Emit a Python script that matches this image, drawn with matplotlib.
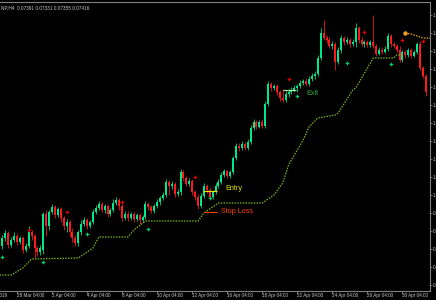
import numpy as np
import matplotlib
matplotlib.use("Agg")
import matplotlib.pyplot as plt

plt.close("all")

# H4 candles, bar 0 is the first bar on the left
Open = [
    0.9898, 0.9914, 0.9924, 0.9900, 0.9910, 0.9918, 0.9906, 0.9914, 0.9890, 0.9898,
    0.9926, 0.9918, 0.9894, 0.9886, 0.9890, 0.9962, 0.9938, 0.9966, 0.9976, 0.9960,
    0.9972, 0.9954, 0.9938, 0.9946, 0.9926, 0.9914, 0.9904, 0.9926, 0.9942, 0.9950,
    0.9938, 0.9946, 0.9966, 0.9974, 0.9982, 0.9970, 0.9978, 0.9962, 0.9970, 0.9984,
    0.9990, 0.9978, 0.9954, 0.9962, 0.9954, 0.9962, 0.9952, 0.9960, 0.9950, 0.9956,
    0.9982, 0.9976, 0.9968, 0.9978, 0.9986, 0.9994, 1.0000, 1.0026, 1.0018, 1.0022,
    1.0002, 1.0006, 1.0046, 1.0034, 1.0022, 1.0028, 1.0006, 0.9996, 0.9978, 0.9998,
    1.0018, 1.0010, 0.9996, 1.0006, 1.0018, 1.0026, 1.0040, 1.0048, 1.0038, 1.0046,
    1.0074, 1.0098, 1.0094, 1.0102, 1.0094, 1.0106, 1.0134, 1.0146, 1.0136, 1.0146,
    1.0138, 1.0182, 1.0222, 1.0214, 1.0218, 1.0206, 1.0194, 1.0190, 1.0202, 1.0206,
    1.0210, 1.0214, 1.0218, 1.0224, 1.0228, 1.0222, 1.0232, 1.0238, 1.0242, 1.0274,
    1.0324, 1.0314, 1.0310, 1.0298, 1.0302, 1.0266, 1.0290, 1.0314, 1.0306, 1.0310,
    1.0302, 1.0306, 1.0334, 1.0310, 1.0302, 1.0306, 1.0300, 1.0306, 1.0298, 1.0282,
    1.0290, 1.0286, 1.0292, 1.0318, 1.0302, 1.0298, 1.0290, 1.0270, 1.0286, 1.0280,
    1.0290, 1.0278, 1.0286, 1.0302, 1.0254, 1.0238]
High = [
    0.9920, 0.9930, 0.9928, 0.9916, 0.9926, 0.9922, 0.9918, 0.9918, 0.9904, 0.9938,
    0.9930, 0.9922, 0.9898, 0.9900, 0.9966, 0.9970, 0.9970, 0.9982, 0.9980, 0.9976,
    0.9976, 0.9958, 0.9952, 0.9950, 0.9934, 0.9920, 0.9930, 0.9950, 0.9956, 0.9954,
    0.9950, 0.9972, 0.9980, 0.9988, 0.9986, 0.9982, 0.9982, 0.9974, 0.9992, 0.9996,
    0.9994, 0.9982, 0.9968, 0.9968, 0.9966, 0.9966, 0.9964, 0.9964, 0.9960, 0.9988,
    0.9986, 0.9980, 0.9982, 0.9992, 0.9998, 1.0006, 1.0032, 1.0030, 1.0028, 1.0026,
    1.0012, 1.0052, 1.0050, 1.0038, 1.0034, 1.0032, 1.0010, 1.0002, 1.0004, 1.0024,
    1.0022, 1.0014, 1.0010, 1.0024, 1.0032, 1.0046, 1.0052, 1.0050, 1.0050, 1.0078,
    1.0104, 1.0104, 1.0108, 1.0106, 1.0112, 1.0140, 1.0152, 1.0150, 1.0150, 1.0152,
    1.0188, 1.0228, 1.0226, 1.0222, 1.0222, 1.0210, 1.0212, 1.0208, 1.0212, 1.0216,
    1.0220, 1.0222, 1.0230, 1.0232, 1.0234, 1.0238, 1.0244, 1.0248, 1.0280, 1.0334,
    1.0350, 1.0320, 1.0316, 1.0308, 1.0306, 1.0296, 1.0320, 1.0318, 1.0316, 1.0314,
    1.0312, 1.0344, 1.0338, 1.0316, 1.0310, 1.0310, 1.0310, 1.0360, 1.0302, 1.0296,
    1.0296, 1.0298, 1.0324, 1.0322, 1.0306, 1.0302, 1.0298, 1.0290, 1.0290, 1.0294,
    1.0294, 1.0290, 1.0306, 1.0308, 1.0258, 1.0242]
Low = [
    0.9892, 0.9908, 0.9894, 0.9896, 0.9906, 0.9900, 0.9902, 0.9884, 0.9886, 0.9894,
    0.9910, 0.9874, 0.9878, 0.9880, 0.9882, 0.9918, 0.9930, 0.9962, 0.9954, 0.9956,
    0.9946, 0.9930, 0.9926, 0.9918, 0.9906, 0.9898, 0.9898, 0.9920, 0.9938, 0.9932,
    0.9934, 0.9942, 0.9962, 0.9970, 0.9966, 0.9964, 0.9956, 0.9958, 0.9966, 0.9980,
    0.9970, 0.9948, 0.9950, 0.9948, 0.9950, 0.9946, 0.9948, 0.9942, 0.9946, 0.9952,
    0.9970, 0.9964, 0.9964, 0.9974, 0.9980, 0.9990, 0.9996, 1.0000, 1.0012, 0.9996,
    0.9998, 1.0000, 1.0028, 1.0018, 1.0018, 1.0000, 0.9990, 0.9972, 0.9974, 0.9994,
    1.0004, 0.9994, 0.9992, 1.0002, 1.0014, 1.0022, 1.0036, 1.0034, 1.0034, 1.0042,
    1.0070, 1.0088, 1.0090, 1.0090, 1.0090, 1.0102, 1.0130, 1.0132, 1.0134, 1.0134,
    1.0134, 1.0178, 1.0208, 1.0210, 1.0200, 1.0188, 1.0186, 1.0186, 1.0196, 1.0202,
    1.0206, 1.0206, 1.0214, 1.0220, 1.0218, 1.0218, 1.0228, 1.0232, 1.0238, 1.0270,
    1.0310, 1.0304, 1.0294, 1.0292, 1.0250, 1.0262, 1.0284, 1.0300, 1.0302, 1.0296,
    1.0298, 1.0296, 1.0304, 1.0298, 1.0296, 1.0296, 1.0296, 1.0294, 1.0278, 1.0280,
    1.0282, 1.0284, 1.0288, 1.0296, 1.0294, 1.0286, 1.0266, 1.0266, 1.0274, 1.0276,
    1.0274, 1.0276, 1.0282, 1.0250, 1.0234, 1.0198]
Close = [
    0.9914, 0.9924, 0.9900, 0.9910, 0.9918, 0.9906, 0.9914, 0.9890, 0.9898, 0.9926,
    0.9918, 0.9894, 0.9886, 0.9894, 0.9962, 0.9938, 0.9966, 0.9976, 0.9960, 0.9972,
    0.9954, 0.9938, 0.9946, 0.9926, 0.9914, 0.9904, 0.9926, 0.9942, 0.9950, 0.9938,
    0.9946, 0.9966, 0.9974, 0.9982, 0.9970, 0.9978, 0.9962, 0.9970, 0.9984, 0.9990,
    0.9978, 0.9954, 0.9962, 0.9954, 0.9962, 0.9952, 0.9960, 0.9950, 0.9956, 0.9982,
    0.9976, 0.9968, 0.9978, 0.9986, 0.9994, 1.0000, 1.0026, 1.0018, 1.0022, 1.0002,
    1.0006, 1.0046, 1.0034, 1.0022, 1.0028, 1.0006, 0.9996, 0.9978, 0.9998, 1.0018,
    1.0010, 0.9996, 1.0006, 1.0018, 1.0026, 1.0040, 1.0048, 1.0038, 1.0046, 1.0074,
    1.0098, 1.0094, 1.0102, 1.0094, 1.0106, 1.0134, 1.0146, 1.0136, 1.0146, 1.0138,
    1.0182, 1.0222, 1.0214, 1.0218, 1.0206, 1.0194, 1.0190, 1.0202, 1.0206, 1.0210,
    1.0214, 1.0218, 1.0224, 1.0228, 1.0222, 1.0232, 1.0238, 1.0242, 1.0274, 1.0324,
    1.0314, 1.0310, 1.0298, 1.0302, 1.0266, 1.0290, 1.0314, 1.0306, 1.0310, 1.0302,
    1.0306, 1.0334, 1.0310, 1.0302, 1.0306, 1.0300, 1.0306, 1.0298, 1.0282, 1.0290,
    1.0286, 1.0292, 1.0318, 1.0302, 1.0298, 1.0290, 1.0270, 1.0286, 1.0280, 1.0290,
    1.0278, 1.0286, 1.0302, 1.0254, 1.0238, 1.0206]

# trailing stop under price (long) and over price (short)
StopBar = [-1, 3, 7, 10, 26, 31, 33, 43, 45, 49, 67, 69, 74, 89, 93, 96, 98, 99,
           103, 105, 108, 114, 115, 120, 121, 126, 127, 134, 135, 137]
StopLevel = [0.9840, 0.9840, 0.9854, 0.9872, 0.9874, 0.9894, 0.9916, 0.9916, 0.9930,
             0.9948, 0.9948, 0.9964, 0.9984, 0.9984, 1.0000, 1.0024, 1.0060, 1.0070,
             1.0110, 1.0136, 1.0154, 1.0160, 1.0164, 1.0210, 1.0214, 1.0264, 1.0274,
             1.0274, 1.0280, 1.0280]
ShortBar = [138, 140, 142, 144, 147]
ShortLevel = [1.0324, 1.0322, 1.0318, 1.0314, 1.0314]

# signal dots
SellBar = [9, 22, 41, 66, 98, 124, 137, 144]
SellLevel = [0.9930, 0.9966, 0.9986, 1.0036, 1.0232, 1.0326, 1.0310, 1.0308]
BuyBar = [0, 14, 29, 50, 71, 101, 118, 133]
BuyLevel = [0.9876, 0.9866, 0.9922, 0.9932, 0.9994, 1.0198, 1.0264, 1.0262]

# trade marks
EntryLevel = 1.0008
StopLossLevel = 0.9966
ExitLevel = 1.0210

TickLabels = ["28 Mar 04:00", "2 Apr 04:00", "4 Apr 04:00", "8 Apr 04:00",
              "10 Apr 04:00", "12 Apr 04:00", "16 Apr 04:00", "18 Apr 04:00",
              "22 Apr 04:00", "24 Apr 04:00", "26 Apr 04:00", "30 Apr 04:00"]
PriceTicks = [0.9820, 0.9856, 0.9892, 0.9928, 0.9964, 1.0000, 1.0036, 1.0072,
              1.0108, 1.0144, 1.0180, 1.0216, 1.0252, 1.0288, 1.0324, 1.0360]
Title = "NP,H4  0.07391 0.07331 0.07355 0.07416"

Bull = "#00e88c"
Bear = "#ff1a1a"
Grid = "#808080"
TextCol = "#c8c8c8"

plt.rcParams["font.family"] = ["Liberation Sans", "DejaVu Sans"]

fig = plt.figure(figsize=(4.36, 3.0), dpi=100, facecolor="black")
ax = fig.add_axes([0.0, 9 / 300, 430 / 436, 289 / 300], facecolor="black")

o = np.array(Open)
h = np.array(High)
l = np.array(Low)
c = np.array(Close)
x = np.arange(len(c))
up = c >= o

ax.vlines(x[up], l[up], h[up], color=Bull, lw=0.55, zorder=2)
ax.vlines(x[~up], l[~up], h[~up], color=Bear, lw=0.55, zorder=2)
body = np.maximum(np.abs(c - o), 0.00015)
ax.bar(x[up], body[up], bottom=np.minimum(o, c)[up], width=0.68, color=Bull,
       linewidth=0, zorder=3)
ax.bar(x[~up], body[~up], bottom=np.minimum(o, c)[~up], width=0.68, color=Bear,
       linewidth=0, zorder=3)

ax.plot(StopBar, StopLevel, color="#7cb518", lw=0.9, ls=(0, (1.2, 1.0)), zorder=4)
ax.plot(ShortBar, ShortLevel, color="#e8a317", lw=0.9, ls=(0, (1.2, 1.0)), zorder=4)
ax.plot(ShortBar[0], ShortLevel[0], "o", color="#f0a020", ms=2.2, zorder=5)

ax.plot(SellBar, SellLevel, "P", color="#e00000", ms=2.6, mew=0, zorder=5)
ax.plot(BuyBar, BuyLevel, "P", color="#00d26a", ms=2.6, mew=0, zorder=5)

ax.hlines(EntryLevel, 68.7, 73.5, color="#e6e600", lw=0.8, zorder=6)
ax.hlines(StopLossLevel, 69.0, 73.5, color="#ff4500", lw=0.8, zorder=6)
ax.hlines(ExitLevel, 96.0, 100.5, color="#a8f0a8", lw=0.8, zorder=6)
ax.text(76.2, EntryLevel + 0.0004, "Entry", color="#e6e600", fontsize=5.2,
        va="center", ha="left", zorder=6)
ax.text(74.8, StopLossLevel, "Stop Loss", color="#ff4500", fontsize=5.2,
        va="center", ha="left", zorder=6)
ax.text(104.0, ExitLevel - 0.0008, "Exit", color="#33a833", fontsize=5.2,
        va="center", ha="left", zorder=6)

ax.set_xlim(-0.82, 146.44)
ax.set_ylim(0.9808, 1.0386)

ax.set_xticks(5 + 12 * np.arange(len(TickLabels)))
ax.set_xticklabels(TickLabels, ha="left", fontsize=3.3, color=TextCol)
ax.text(1.75, -0.008, "27 Mar 2019", transform=ax.get_xaxis_transform(),
        ha="right", va="top", fontsize=3.3, color=TextCol, clip_on=False)
ax.yaxis.tick_right()
ax.set_yticks(PriceTicks)
ax.set_yticklabels(["%.4f" % p for p in PriceTicks], fontsize=3.3, color=TextCol)
ax.tick_params(axis="x", colors=Grid, labelcolor=TextCol, length=2.0, width=0.6,
               pad=-0.6)
ax.tick_params(axis="y", colors=Grid, labelcolor=TextCol, length=1.5, width=0.6,
               pad=0.6)
ax.text(0.002, 0.988, Title, transform=ax.transAxes, ha="left", va="top",
        fontsize=3.4, color=TextCol)

for side in ["top", "right", "bottom"]:
    ax.spines[side].set_color(Grid)
    ax.spines[side].set_linewidth(0.8)
ax.spines["left"].set_visible(False)

fig.savefig("out.png", dpi=100, facecolor="black")
